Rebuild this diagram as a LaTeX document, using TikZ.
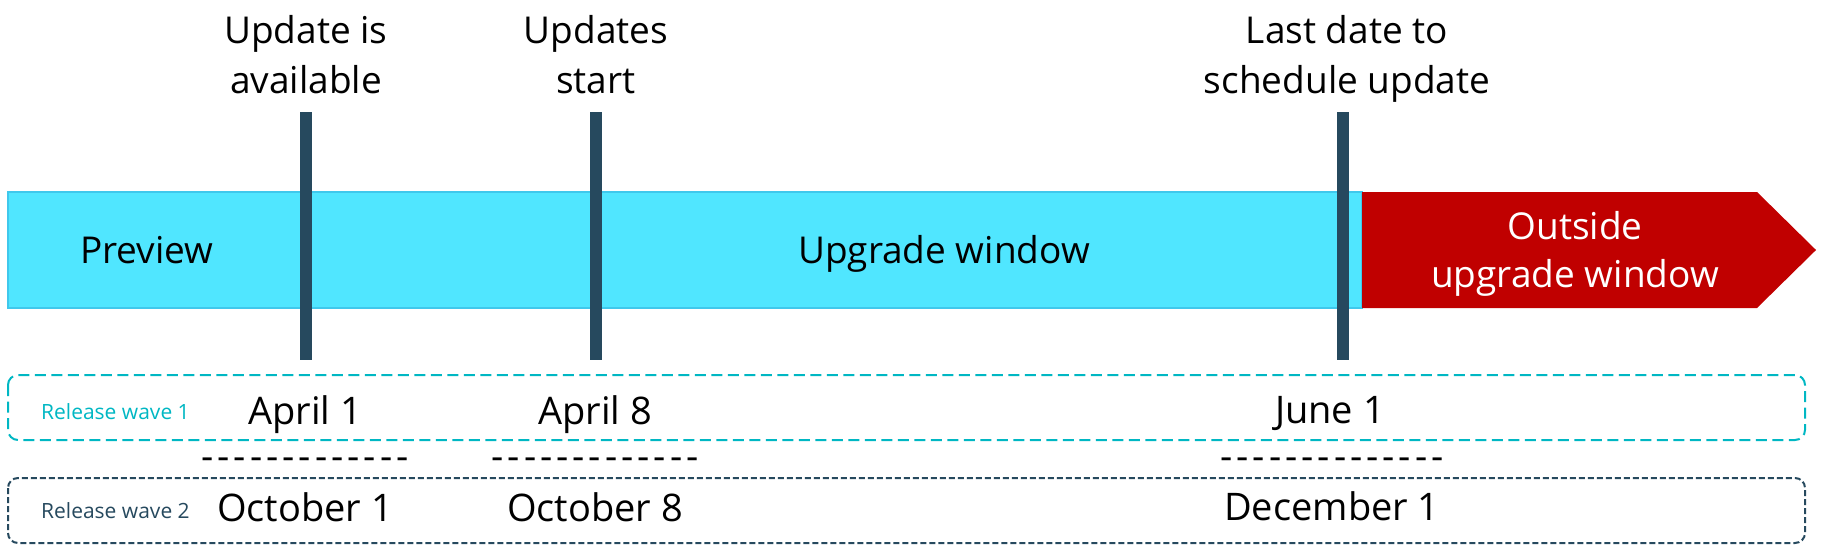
\documentclass[tikz,border=0pt]{standalone}
\usepackage{fontspec}
\setmainfont{Open Sans}
\newfontfamily\hyfont{Open Sans}[Ligatures=TeXOff,LetterSpace=10.5]
\definecolor{barblue}{HTML}{50E6FF}
\definecolor{baredge}{HTML}{3FC8EC}
\definecolor{outred}{HTML}{C00000}
\definecolor{slate}{HTML}{26495E}
\definecolor{wavecyan}{HTML}{00B7C3}
\begin{document}
\begin{tikzpicture}[x=1pt,y=-1pt,
  lbl/.style={inner sep=0pt, anchor=base, font=\fontsize{37}{50}\selectfont},
  datelbl/.style={inner sep=0pt, anchor=base, font=\fontsize{38}{50}\selectfont},
  wavelbl/.style={inner sep=0pt, anchor=base west, font=\fontsize{21}{26}\selectfont},
  hyph/.style={inner sep=0pt, anchor=base, font=\hyfont\fontsize{38}{50}\selectfont},
  marker/.style={draw=slate, line width=12pt},
  wavebox/.style={rounded corners=10pt, line width=2pt}]
\useasboundingbox (0,0) rectangle (1825,554);
% main bar
\fill[barblue, draw=baredge, line width=1.5pt] (8,192) rectangle (1362,308);
% outside arrow
\fill[outred] (1362,192) -- (1757,192) -- (1816,250) -- (1757,308) -- (1362,308) -- cycle;
% markers
\coordinate (m1t) at (306,112); \coordinate (m1b) at (306,360);
\coordinate (m2t) at (596,112); \coordinate (m2b) at (596,360);
\coordinate (m3t) at (1343,112); \coordinate (m3b) at (1343,360);
\draw[marker] (m1t) -- (m1b);
\draw[marker] (m2t) -- (m2b);
\draw[marker] (m3t) -- (m3b);
% top labels
\node[lbl] (a1) at (306,43) {Update is};
\node[lbl] (a2) at (306,93) {available};
\node[lbl] (s1) at (596,43) {Updates};
\node[lbl] (s2) at (596,93) {start};
\node[lbl] (l1) at (1347,43) {Last date to};
\node[lbl] (l2) at (1347,93) {schedule update};
% bar labels
\node[lbl] (prev) at (147,263) {Preview};
\node[lbl] (upw) at (944,263) {Upgrade window};
\node[lbl, text=white] (out1) at (1575,239) {Outside};
\node[lbl, text=white] (out2) at (1575,287) {upgrade window};
% wave boxes
\draw[wavebox, draw=wavecyan, dash pattern=on 11pt off 5.5pt] (8,375) rectangle (1805,440);
\draw[wavebox, draw=slate, dash pattern=on 6pt off 3pt] (8,478) rectangle (1805,543);
\node[wavelbl, text=wavecyan] (w1) at (41,419) {Release wave 1};
\node[wavelbl, text=slate] (w2) at (41,518) {Release wave 2};
% dates
\node[datelbl] (d1) at (305,424) {April 1};
\node[datelbl] (d2) at (595,424) {April 8};
\node[datelbl] (d3) at (1330,423) {June 1};
\node[hyph] (h1) at (305,469) {-------------};
\node[hyph] (h2) at (595,469) {-------------};
\node[hyph] (h3) at (1332,469) {--------------};
\node[datelbl] (e1) at (305,521) {October 1};
\node[datelbl] (e2) at (595,521) {October 8};
\node[datelbl] (e3) at (1332,520) {December 1};
\end{tikzpicture}
\end{document}
